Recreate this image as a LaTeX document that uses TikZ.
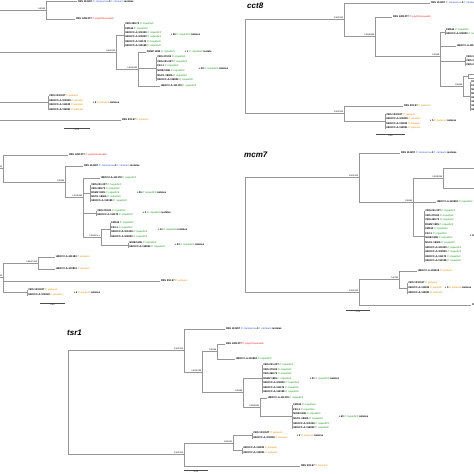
\documentclass[tikz,border=0pt]{standalone}
\usepackage{fontspec}
\setmainfont{Liberation Sans}
\usetikzlibrary{calc}
\definecolor{branchgray}{RGB}{150,150,150}
\definecolor{roqgreen}{RGB}{20,140,20}
\definecolor{panorange}{RGB}{225,135,0}
\definecolor{carblue}{RGB}{40,70,210}
\definecolor{psyred}{RGB}{225,20,20}
\newcommand{\roq}{\textcolor{roqgreen}{\mdseries\itshape P. roqueforti}}
\newcommand{\pan}{\textcolor{panorange}{\mdseries\itshape P. paneum}}
\newcommand{\car}{\textcolor{carblue}{\mdseries\itshape P. carneum}}
\newcommand{\psy}{\textcolor{psyred}{\mdseries\itshape P. psychrosexualis}}

\begin{document}
\begin{tikzpicture}[x=1pt, y=-1pt,
    br/.style={draw=branchgray, line width=0.8pt},
    tip/.style={anchor=west, inner sep=0.6pt, font=\fontsize{2.55}{3}\selectfont\bfseries},
    bs/.style={anchor=south east, inner sep=0.4pt, font=\fontsize{2.1}{2.4}\selectfont},
    gene/.style={anchor=west, inner sep=0pt, font=\fontsize{8}{9}\selectfont\bfseries\itshape},
    scalebar/.style={draw=black!70, line width=0.4pt}]
  \useasboundingbox (0,0) rectangle (474,474);
  \clip (0,0) rectangle (474,474);

  % ---- top left panel (gene name cut off)
  \coordinate (r1) at (-4,60);
  \coordinate (a1) at (46,10);
  \coordinate (b1) at (116,52);
  \coordinate (d1) at (124,35);
  \coordinate (e1) at (138,69);
  \coordinate (f1) at (156,68.5);
  \coordinate (c1) at (48,102.75);
  \node[tip] (t1car) at (77,1.5) {CBS 112297 \car{} + 4 \car{} isolates};
  \node[tip] (t1psy) at (75,19) {CBS 128137T \psy};
  \node[tip] (t1d1) at (124.6,24) {CBS 498.73 \roq};
  \node[tip] (t1d2) at (124.6,28.4) {FM164 \roq};
  \node[tip] (t1d3) at (124.6,32.8) {UBOCC-A-101049 \roq};
  \node[tip] (t1d4) at (124.6,37.2) {UBOCC-A-109000 \roq};
  \node[tip] (t1d5) at (124.6,41.6) {UBOCC-A-111175 \roq};
  \node[tip] (t1d6) at (124.6,46) {UBOCC-A-112198 \roq};
  \node[tip] (t1dsm) at (146,52) {DSMZ 1995 \roq};
  \node[tip] (t1f1) at (156.6,57) {CBS 479.84 \roq};
  \node[tip] (t1f2) at (156.6,61.6) {CBS 221.30T \roq};
  \node[tip] (t1f3) at (156.6,66.2) {F43-1 \roq};
  \node[tip] (t1f4) at (156.6,70.8) {NIOB 5186 \roq};
  \node[tip] (t1f5) at (156.6,75.4) {MUCL 18606 \roq};
  \node[tip] (t1f6) at (156.6,80) {UBOCC-A-116803 \roq};
  \node[tip] (t1ub8) at (160,86) {UBOCC-A-111178 \roq};
  \node[tip] (t1c1) at (48.6,96) {CBS 101032T \pan};
  \node[tip] (t1c2) at (48.6,100.5) {UBOCC-A-109218 \pan};
  \node[tip] (t1c3) at (48.6,105) {UBOCC-A-111183 \pan};
  \node[tip] (t1c4) at (48.6,109.5) {UBOCC-A-110801 \pan};
  \node[tip] (t1cbs3) at (121,120) {CBS 303.97 \pan};
  \node[tip] (n1a) at (170,35) {+ 36 \roq{} isolates};
  \node[tip] (n1b) at (184,52) {+ 1 \roq{} isolate};
  \node[tip] (n1c) at (198,68.5) {+ 29 \roq{} isolates};
  \node[tip] (n1d) at (92,102.75) {+ 5 \pan{} isolates};
  \foreach \c in {a1,b1,c1,t1cbs3} \draw[br] (r1) |- (\c);
  \draw[br] (a1) |- (t1car);
  \draw[br] (a1) |- (t1psy);
  \draw[br] (b1) |- (d1);
  \draw[br] (b1) |- (e1);
  \foreach \c in {t1d1,t1d2,t1d3,t1d4,t1d5,t1d6} \draw[br] (d1) |- (\c);
  \foreach \c in {t1dsm,f1,t1ub8} \draw[br] (e1) |- (\c);
  \foreach \c in {t1f1,t1f2,t1f3,t1f4,t1f5,t1f6} \draw[br] (f1) |- (\c);
  \foreach \c in {t1c1,t1c2,t1c3,t1c4} \draw[br] (c1) |- (\c);
  \node[bs] (s1a) at (a1) {1/99/92};
  \node[bs] (s1b) at (b1) {1/100/100};
  \node[bs] (s1e) at (e1) {0.99/53/53};
  \coordinate (sb1l) at (64,128);
  \coordinate (sb1r) at (90,128);
  \draw[scalebar] (sb1l) -- (sb1r) node[midway, below, bs, anchor=north] (sb1t) {0.05};

  % ---- cct8
  \node[gene] (g2) at (247,6) {cct8};
  \coordinate (r2) at (245,66);
  \coordinate (a2) at (344,19.5);
  \coordinate (b2) at (375,36);
  \coordinate (c2) at (440,56);
  \coordinate (d2) at (445,32);
  \coordinate (e2) at (465,61);
  \coordinate (f2) at (463,86);
  \coordinate (g2n) at (468,76);
  \coordinate (h2) at (470,96);
  \coordinate (i2) at (344,113.5);
  \coordinate (j2) at (385,121.25);
  \node[tip] (t2car) at (430,3) {CBS 112297 \car{} + 4 \car{} isolates};
  \node[tip] (t2psy) at (392,17) {CBS 128137T \psy};
  \node[tip] (t2d1) at (445.6,30) {FM164 \roq};
  \node[tip] (t2d2) at (445.6,34) {UBOCC-A-109000 \roq};
  \node[tip] (t2ub) at (456,46) {UBOCC-A-111175 \roq};
  \node[tip] (t2e1) at (465.6,57) {CBS 479.84 \roq};
  \node[tip] (t2e2) at (465.6,61) {CBS 498.73 \roq};
  \node[tip] (t2e3) at (465.6,65) {CBS 221.30T \roq};
  \node[tip] (t2g1) at (480,74) {UBOCC-A-101049 \roq};
  \node[tip] (t2g2) at (480,78) {UBOCC-A-112198 \roq};
  \node[tip] (t2h1) at (470.6,82) {DSMZ 1995 \roq};
  \node[tip] (t2h2) at (470.6,86) {F43-1 \roq};
  \node[tip] (t2h3) at (470.6,90) {NIOB 5186 \roq};
  \node[tip] (t2h4) at (470.6,94) {MUCL 18606 \roq};
  \node[tip] (t2h5) at (470.6,98) {UBOCC-A-116803 \roq};
  \node[tip] (t2h6) at (470.6,102) {UBOCC-A-111178 \roq};
  \node[tip] (t2h7) at (470.6,106) {UBOCC-A-110932 \roq};
  \node[tip] (t2h8) at (470.6,110) {UBOCC-A-101048 \roq};
  \node[tip] (t2cbs3) at (403,106) {CBS 303.97 \pan};
  \node[tip] (t2j1) at (385.6,114.5) {CBS 101032T \pan};
  \node[tip] (t2j2) at (385.6,119) {UBOCC-A-109218 \pan};
  \node[tip] (t2j3) at (385.6,123.5) {UBOCC-A-111183 \pan};
  \node[tip] (t2j4) at (385.6,128) {UBOCC-A-110801 \pan};
  \node[tip] (n2a) at (429,121.25) {+ 5 \pan{} isolates};
  \draw[br] (r2) |- (a2);
  \draw[br] (r2) |- (i2);
  \draw[br] (a2) |- (t2car);
  \draw[br] (a2) |- (b2);
  \draw[br] (b2) |- (t2psy);
  \draw[br] (b2) |- (c2);
  \foreach \c in {d2,t2ub,e2,f2} \draw[br] (c2) |- (\c);
  \foreach \c in {t2d1,t2d2} \draw[br] (d2) |- (\c);
  \foreach \c in {t2e1,t2e2,t2e3} \draw[br] (e2) |- (\c);
  \draw[br] (f2) |- (g2n);
  \draw[br] (f2) |- (h2);
  \foreach \c in {t2g1,t2g2} \draw[br] (g2n) |- (\c);
  \foreach \c in {t2h1,t2h2,t2h3,t2h4,t2h5,t2h6,t2h7,t2h8} \draw[br] (h2) |- (\c);
  \draw[br] (i2) |- (t2cbs3);
  \draw[br] (i2) |- (j2);
  \foreach \c in {t2j1,t2j2,t2j3,t2j4} \draw[br] (j2) |- (\c);
  \node[bs] (s2a) at (a2) {1/100/100};
  \node[bs] (s2b) at (b2) {0.95/99/95};
  \node[bs] (s2c) at (c2) {1/95/95};
  \node[bs] (s2f) at (f2) {1/96/96};
  \node[bs] (s2i) at (i2) {1/100/100};
  \coordinate (sb2l) at (376,134);
  \coordinate (sb2r) at (405,134);
  \draw[scalebar] (sb2l) -- (sb2r) node[midway, below, bs, anchor=north] (sb2t) {0.05};

  % ---- middle left panel (gene name cut off)
  \coordinate (r3) at (-4,220);
  \coordinate (a3) at (3,168.5);
  \coordinate (b3) at (65,182);
  \coordinate (c3) at (83,197);
  \coordinate (d3) at (90,193);
  \coordinate (e3) at (96,213);
  \coordinate (f3) at (101,237.5);
  \coordinate (g3) at (110,229.75);
  \coordinate (h3) at (128,245);
  \coordinate (i3) at (3,277);
  \coordinate (j3) at (38,263);
  \coordinate (k3) at (27,292.5);
  \node[tip] (t3psy) at (68,155) {CBS 128137T \psy};
  \node[tip] (t3car) at (83,166) {CBS 112297 \car{} + 4 \car{} isolates};
  \node[tip] (t3ub8) at (100,178) {UBOCC-A-111178 \roq};
  \node[tip] (t3d1) at (90.6,185) {CBS 221.30T \roq};
  \node[tip] (t3d2) at (90.6,189) {CBS 498.73 \roq};
  \node[tip] (t3d3) at (90.6,193) {DSMZ 1995 \roq};
  \node[tip] (t3d4) at (90.6,197) {MUCL 18606 \roq};
  \node[tip] (t3d5) at (90.6,201) {UBOCC-A-112198 \roq};
  \node[tip] (t3e1) at (96.6,211) {CBS 479.84 \roq};
  \node[tip] (t3e2) at (96.6,215) {UBOCC-A-111175 \roq};
  \node[tip] (t3g1) at (110.6,223) {FM164 \roq};
  \node[tip] (t3g2) at (110.6,227.5) {F43-1 \roq};
  \node[tip] (t3g3) at (110.6,232) {UBOCC-A-101049 \roq};
  \node[tip] (t3g4) at (110.6,236.5) {UBOCC-A-109000 \roq};
  \node[tip] (t3h1) at (128.6,243) {NIOB 5186 \roq};
  \node[tip] (t3h2) at (128.6,247) {UBOCC-A-116803 \roq};
  \node[tip] (t3j1) at (55,257) {UBOCC-A-111183 \pan};
  \node[tip] (t3j2) at (55,269) {UBOCC-A-110801 \pan};
  \node[tip] (t3cbs3) at (160,281) {CBS 303.97 \pan};
  \node[tip] (t3k1) at (27.6,290) {CBS 101032T \pan};
  \node[tip] (t3k2) at (27.6,295) {UBOCC-A-109218 \pan};
  \node[tip] (n3a) at (136,193) {+ 26 \roq{} isolates};
  \node[tip] (n3b) at (142,213) {+ 3 \roq{} isolates};
  \node[tip] (n3c) at (157,229.75) {+ 11 \roq{} isolates};
  \node[tip] (n3d) at (174,245) {+ 23 \roq{} isolates};
  \node[tip] (n3e) at (73,292.5) {+ 2 \pan{} isolates};
  \draw[br] (r3) |- (a3);
  \draw[br] (r3) |- (i3);
  \draw[br] (a3) |- (t3psy);
  \draw[br] (a3) |- (b3);
  \draw[br] (b3) |- (t3car);
  \draw[br] (b3) |- (c3);
  \foreach \c in {t3ub8,d3,e3,f3} \draw[br] (c3) |- (\c);
  \foreach \c in {t3d1,t3d2,t3d3,t3d4,t3d5} \draw[br] (d3) |- (\c);
  \foreach \c in {t3e1,t3e2} \draw[br] (e3) |- (\c);
  \draw[br] (f3) |- (g3);
  \draw[br] (f3) |- (h3);
  \foreach \c in {t3g1,t3g2,t3g3,t3g4} \draw[br] (g3) |- (\c);
  \foreach \c in {t3h1,t3h2} \draw[br] (h3) |- (\c);
  \foreach \c in {j3,t3cbs3,k3} \draw[br] (i3) |- (\c);
  \foreach \c in {t3j1,t3j2} \draw[br] (j3) |- (\c);
  \foreach \c in {t3k1,t3k2} \draw[br] (k3) |- (\c);
  \node[bs] (s3a) at (a3) {1/100/100};
  \node[bs] (s3b) at (b3) {1/95/95};
  \node[bs] (s3c) at (c3) {0.92/64/65};
  \node[bs] (s3f) at (f3) {0.95/51/n.s.};
  \node[bs] (s3j) at (j3) {0.92/97/100};
  \node[bs] (s3i) at (i3) {1/100/100};
  \coordinate (sb3l) at (40,303);
  \coordinate (sb3r) at (65,303);
  \draw[scalebar] (sb3l) -- (sb3r) node[midway, below, bs, anchor=north] (sb3t) {0.05};

  % ---- mcm7
  \node[gene] (g4) at (244,155) {mcm7};
  \coordinate (r4) at (245,234);
  \coordinate (a4) at (359,177);
  \coordinate (b4) at (413,202);
  \coordinate (c4) at (443,178);
  \coordinate (d4) at (424,236);
  \coordinate (e4) at (359,292);
  \coordinate (f4) at (399,279.5);
  \coordinate (g4n) at (407,288);
  \node[tip] (t4car) at (400,153) {CBS 112297 \car{} + 4 \car{} isolates};
  \node[tip] (t4c1) at (480,168) {CBS 128137T \psy};
  \node[tip] (t4c2) at (480,188) {UBOCC-A-111178 \roq};
  \node[tip] (t4ub) at (436,202) {UBOCC-A-110932 \roq};
  \foreach \n/\lab [count=\k from 0] in {1/CBS 221.30T,2/CBS 479.84,3/CBS 498.73,4/DSMZ 1995,5/FM164,6/F43-1,7/NIOB 5186,8/MUCL 18606,9/UBOCC-A-101049,10/UBOCC-A-109000,11/UBOCC-A-111175,12/UBOCC-A-112198}
    \node[tip] (t4d\n) at (424.6,211+4.55*\k) {\lab{} \roq};
  \node[tip] (n4a) at (469,236) {+ 47 \roq{} isolates};
  \node[tip] (t4ub18) at (417,271) {UBOCC-A-109218 \pan};
  \node[tip] (t4g1) at (407.6,283) {CBS 101032T \pan};
  \node[tip] (t4g2) at (407.6,288) {UBOCC-A-111183 \pan};
  \node[tip] (t4g3) at (407.6,293) {UBOCC-A-110801 \pan};
  \node[tip] (n4b) at (444,288) {+ 5 \pan{} isolates};
  \node[tip] (t4cbs3) at (471,305) {CBS 303.97 \pan};
  \draw[br] (r4) |- (a4);
  \draw[br] (r4) |- (e4);
  \draw[br] (a4) |- (t4car);
  \draw[br] (a4) |- (b4);
  \foreach \c in {c4,t4ub,d4} \draw[br] (b4) |- (\c);
  \foreach \c in {t4c1,t4c2} \draw[br] (c4) |- (\c);
  \foreach \n in {1,...,12} \draw[br] (d4) |- (t4d\n);
  \draw[br] (e4) |- (f4);
  \draw[br] (e4) |- (t4cbs3);
  \draw[br] (f4) |- (t4ub18);
  \draw[br] (f4) |- (g4n);
  \foreach \c in {t4g1,t4g2,t4g3} \draw[br] (g4n) |- (\c);
  \node[bs] (s4a) at (a4) {1/100/100};
  \node[bs] (s4b) at (b4) {1/96/94};
  \node[bs] (s4c) at (c4) {0.95/90/95};
  \node[bs] (s4f) at (f4) {1/97/93};
  \node[bs] (s4e) at (e4) {1/100/100};
  \coordinate (sb4l) at (346,310);
  \coordinate (sb4r) at (370,310);
  \draw[scalebar] (sb4l) -- (sb4r) node[midway, below, bs, anchor=north] (sb4t) {0.05};

  % ---- tsr1
  \node[gene] (g5) at (67,333) {tsr1};
  \coordinate (r5) at (68,402);
  \coordinate (a5) at (184,350);
  \coordinate (b5) at (202,372);
  \coordinate (c5) at (217,351.5);
  \coordinate (d5) at (243,392.5);
  \coordinate (e5) at (262,378.5);
  \coordinate (f5) at (260,407);
  \coordinate (g5n) at (292,416.5);
  \coordinate (h5) at (184,454.5);
  \coordinate (i5) at (233,443);
  \coordinate (j5) at (252,435.5);
  \coordinate (k5) at (242,450.5);
  \node[tip] (t5car) at (225,329) {CBS 112297 \car{} + 4 \car{} isolates};
  \node[tip] (t5psy) at (225,344) {CBS 128137T \psy};
  \node[tip] (t5ub32) at (235,359) {UBOCC-A-110932 \roq};
  \foreach \n/\lab [count=\k from 0] in {1/CBS 221.30T,2/CBS 479.84,3/CBS 498.73,4/DSMZ 1995,5/UBOCC-A-109000,6/UBOCC-A-111175,7/UBOCC-A-112198}
    \node[tip] (t5e\n) at (262.6,365+4.5*\k) {\lab{} \roq};
  \node[tip] (n5a) at (309,378.5) {+ 31 \roq{} isolates};
  \node[tip] (t5ub78) at (267,398) {UBOCC-A-111178 \roq};
  \foreach \n/\lab [count=\k from 0] in {1/FM164,2/F43-1,3/NIOB 5186,4/MUCL 18606,5/UBOCC-A-101049,6/UBOCC-A-116803}
    \node[tip] (t5g\n) at (292.6,405+4.6*\k) {\lab{} \roq};
  \node[tip] (n5b) at (338,416.5) {+ 60 \roq{} isolates};
  \node[tip] (t5j1) at (252.6,433) {CBS 101032T \pan};
  \node[tip] (t5j2) at (252.6,438) {UBOCC-A-109218 \pan};
  \node[tip] (n5c) at (296,435.5) {+ 3 \pan{} isolates};
  \node[tip] (t5k1) at (242.6,448) {UBOCC-A-111183 \pan};
  \node[tip] (t5k2) at (242.6,453) {UBOCC-A-110801 \pan};
  \node[tip] (t5cbs3) at (300,466) {CBS 303.97 \pan};
  \draw[br] (r5) |- (a5);
  \draw[br] (r5) |- (h5);
  \draw[br] (a5) |- (t5car);
  \draw[br] (a5) |- (b5);
  \draw[br] (b5) |- (c5);
  \draw[br] (b5) |- (d5);
  \draw[br] (c5) |- (t5psy);
  \draw[br] (c5) |- (t5ub32);
  \draw[br] (d5) |- (e5);
  \draw[br] (d5) |- (f5);
  \foreach \n in {1,...,7} \draw[br] (e5) |- (t5e\n);
  \draw[br] (f5) |- (t5ub78);
  \draw[br] (f5) |- (g5n);
  \foreach \n in {1,...,6} \draw[br] (g5n) |- (t5g\n);
  \draw[br] (h5) |- (i5);
  \draw[br] (h5) |- (t5cbs3);
  \draw[br] (i5) |- (j5);
  \draw[br] (i5) |- (k5);
  \foreach \c in {t5j1,t5j2} \draw[br] (j5) |- (\c);
  \foreach \c in {t5k1,t5k2} \draw[br] (k5) |- (\c);
  \node[bs] (s5a) at (a5) {1/100/100};
  \node[bs] (s5b) at (b5) {0.95/97/95};
  \node[bs] (s5c) at (c5) {1/95/96};
  \node[bs] (s5d) at (d5) {1/98/98};
  \node[bs] (s5f) at (f5) {0.95/65/53};
  \node[bs] (s5h) at (h5) {1/100/100};
  \node[bs] (s5i) at (i5) {1/99/100};
  \coordinate (sb5l) at (184,470);
  \coordinate (sb5r) at (208,470);
  \draw[scalebar] (sb5l) -- (sb5r) node[midway, below, bs, anchor=north] (sb5t) {0.05};
\end{tikzpicture}
\end{document}
